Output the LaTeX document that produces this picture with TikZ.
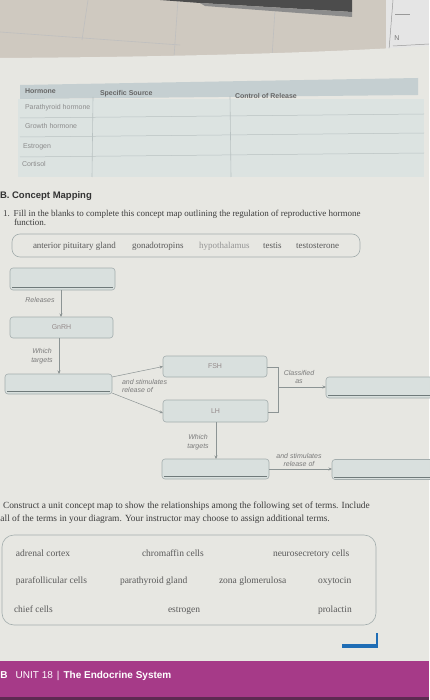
\documentclass[tikz,border=0pt]{standalone}
\usepackage{fontspec}
\setmainfont{Liberation Serif}
\setsansfont{Liberation Sans}
\usetikzlibrary{arrows.meta}
\definecolor{bgphoto}{HTML}{CFC9C0}
\definecolor{paper}{HTML}{E7E7E2}
\definecolor{boxfill}{HTML}{D9E0DE}
\definecolor{boxline}{HTML}{A3ADAD}
\definecolor{blankline}{HTML}{6F7A7A}
\definecolor{conncol}{HTML}{8C9494}
\definecolor{maptxt}{HTML}{948A8A}
\definecolor{lblcol}{HTML}{7A7A7A}
\definecolor{bodytxt}{HTML}{3C3C3C}
\definecolor{hdrfill}{HTML}{C5CFD1}
\definecolor{tblfill}{HTML}{DCE3E1}
\definecolor{tblline}{HTML}{B9C2C2}
\definecolor{banner}{HTML}{A63A88}
\definecolor{bannerdark}{HTML}{5E2A52}
\definecolor{bluemark}{HTML}{1F6DB5}
\begin{document}
\begin{tikzpicture}[x=1pt,y=-1pt,
  every node/.style={inner sep=0pt, outer sep=0pt},
  mapbox/.style={draw=boxline, fill=boxfill, rounded corners=3pt, line width=0.6pt, minimum height=21pt, font=\sffamily\fontsize{7}{8}\selectfont, text=maptxt},
  blankbox/.style={mapbox, path picture={\draw[line width=0.7pt, draw=blankline] ([shift={(2pt,2.5pt)}]path picture bounding box.south west) -- ([shift={(-2pt,2.5pt)}]path picture bounding box.south east);}},
  lbl/.style={font=\sffamily\itshape\fontsize{7}{8.5}\selectfont, text=lblcol, align=center},
  conn/.style={draw=conncol, line width=0.5pt, -{Stealth[length=3.5pt,width=3pt]}},
  plain/.style={draw=conncol, line width=0.5pt},
  body/.style={font=\fontsize{9}{9}\selectfont, text=bodytxt, anchor=base west},
  term/.style={font=\fontsize{9.5}{10}\selectfont, text=bodytxt!85, anchor=base west},
  bank/.style={font=\fontsize{9}{9}\selectfont, text=bodytxt!85, anchor=base west},
  tblhdr/.style={font=\sffamily\bfseries\fontsize{7}{8}\selectfont, text=black!60, anchor=base west},
  tblrow/.style={font=\sffamily\fontsize{7}{8}\selectfont, text=black!45, anchor=base west}
]
\useasboundingbox (0,0) rectangle (429,700);
% photo background
\fill[bgphoto] (0,0) rectangle (429,700);
\draw[black!25, line width=0.6pt] (88,0) -- (82,40);
\draw[black!25, line width=0.6pt] (0,32) -- (180,45);
\draw[black!25, line width=0.6pt] (178,0) -- (174,57);
\draw[black!25, line width=0.6pt] (275,10) -- (272,57);
\fill[black!70] (160,0) -- (352,0) -- (352,12) -- (200,3) -- cycle;
\fill[black!45] (200,3) -- (352,12) -- (352,17) -- (205,6) -- cycle;
\fill[black!10] (386,0) rectangle (429,52);
\draw[black!40, line width=0.5pt] (393,0) -- (389,50);
\draw[black!40, line width=0.5pt] (395,14) -- (410,14);
\draw[black!40, line width=0.5pt] (393,46) -- (429,44);
\node[font=\sffamily\fontsize{7}{8}\selectfont, text=black!55] (nmark) at (397,38) {N};
% paper
\fill[paper] (0,58) .. controls (150,57) and (300,54) .. (429,46) -- (429,700) -- (0,700) -- cycle;
% table
\fill[tblfill] (18,99) rectangle (424,177);
\fill[hdrfill] (20,85) -- (418,78) -- (418,95) -- (20,99) -- cycle;
\foreach \yy in {118,137,157} \draw[tblline, line width=0.5pt] (20,\yy) -- (424,\yy-4);
\draw[tblline, line width=0.6pt] (93,97) -- (92,177);
\draw[tblline, line width=0.6pt] (230,96) -- (231,177);
\node[tblhdr] (th1) at (25,94) {Hormone};
\node[tblhdr] (th2) at (100,96) {Specific Source};
\node[tblhdr] (th3) at (235,99) {Control of Release};
\node[tblrow] (tr1) at (25,110) {Parathyroid hormone};
\node[tblrow] (tr2) at (25,129) {Growth hormone};
\node[tblrow] (tr3) at (23,149) {Estrogen};
\node[tblrow] (tr4) at (22,167) {Cortisol};
% section heading
\node[font=\sffamily\bfseries\fontsize{9.5}{10}\selectfont, text=black!80, anchor=base west] (sec) at (0,199) {B. Concept Mapping};
\node[body] (q1a) at (3,217) {1.\hspace{4pt}Fill in the blanks to complete this concept map outlining the regulation of reproductive hormone};
\node[body] (q1b) at (14,226) {function.};
% word bank
\draw[boxline, line width=0.6pt, rounded corners=8pt] (12,234) rectangle (360,257);
\node[bank] (w1) at (33,248) {anterior pituitary gland};
\node[bank] (w2) at (132,248) {gonadotropins};
\node[bank, text=bodytxt!55] (w3) at (199,248) {hypothalamus};
\node[bank] (w4) at (263,248) {testis};
\node[bank] (w5) at (296,248) {testosterone};
% concept map
\node[blankbox, minimum width=105pt, minimum height=22pt] (b1) at (62.5,279) {};
\node[mapbox, minimum width=103pt] (gnrh) at (61.5,327.5) {GnRH};
\node[blankbox, minimum width=107pt, minimum height=20pt] (b3) at (58.5,384) {};
\node[mapbox, minimum width=104pt] (fsh) at (215,366.5) {FSH};
\node[mapbox, minimum width=105pt, minimum height=22pt] (lh) at (215.5,411) {LH};
\node[blankbox, minimum width=114pt] (rb1) at (383,387.5) {};
\node[blankbox, minimum width=107pt, minimum height=20pt] (b5) at (215.5,469) {};
\node[blankbox, minimum width=110pt, minimum height=20pt] (rb2) at (387,469.5) {};
\draw[conn] (b1.south -| 61,0) -- (gnrh.north -| 61,0);
\node[lbl] (l1) at (40,300) {Releases};
\draw[conn] (gnrh.south -| 59,0) -- (b3.north -| 59,0);
\node[lbl] (l2) at (42,356) {Which\\targets};
\draw[conn] ([yshift=-3pt]b3.north east) -- (fsh.west);
\draw[conn] ([yshift=1pt]b3.south east) -- ([yshift=-2pt]lh.west);
\node[lbl, align=left, anchor=north west] (l3) at (122,379) {and stimulates\\release of};
\coordinate (bt) at (278,367);
\coordinate (bb) at (278,412);
\coordinate (bm) at (278,387);
\draw[plain] (fsh.east |- bt) -- (bt) -- (bb) -- (lh.east |- bb);
\draw[conn] (bm) -- (rb1.west |- bm);
\node[lbl] (l4) at (299,377) {Classified\\as};
\draw[conn] (lh.south -| 216,0) -- (b5.north -| 216,0);
\node[lbl] (l5) at (198,442) {Which\\targets};
\draw[conn] (b5.east) -- (rb2.west |- b5.east);
\node[lbl] (l6) at (299,460) {and stimulates\\release of};
% second question
\node[body, font=\fontsize{9.4}{10}\selectfont] (q2a) at (3,508) {Construct a unit concept map to show the relationships among the following set of terms. Include};
\node[body, font=\fontsize{9.4}{10}\selectfont] (q2b) at (0.5,521) {all of the terms in your diagram. Your instructor may choose to assign additional terms.};
\draw[boxline, line width=0.6pt, rounded corners=12pt] (2,535) rectangle (376,625);
\node[term] (t1) at (16,556) {adrenal cortex};
\node[term] (t2) at (142,556) {chromaffin cells};
\node[term] (t3) at (273,556) {neurosecretory cells};
\node[term] (t4) at (16,583) {parafollicular cells};
\node[term] (t5) at (120,583) {parathyroid gland};
\node[term] (t6) at (219,583) {zona glomerulosa};
\node[term] (t7) at (318,583) {oxytocin};
\node[term] (t8) at (14,612) {chief cells};
\node[term] (t9) at (168,612) {estrogen};
\node[term] (t10) at (318,612) {prolactin};
% blue mark
\draw[bluemark, line width=3.5pt] (342,646) -- (378,646);
\draw[bluemark, line width=2pt] (377,633) -- (377,648);
% banner
\fill[banner] (0,661) rectangle (429,700);
\fill[bannerdark] (0,697) rectangle (429,700);
\node[font=\sffamily\bfseries\fontsize{10}{11}\selectfont, text=white, anchor=base west] (ban) at (0.5,678) {B\hspace{8pt}{\mdseries UNIT 18\hspace{4pt}|\hspace{4pt}}The Endocrine System};
\end{tikzpicture}
\end{document}
